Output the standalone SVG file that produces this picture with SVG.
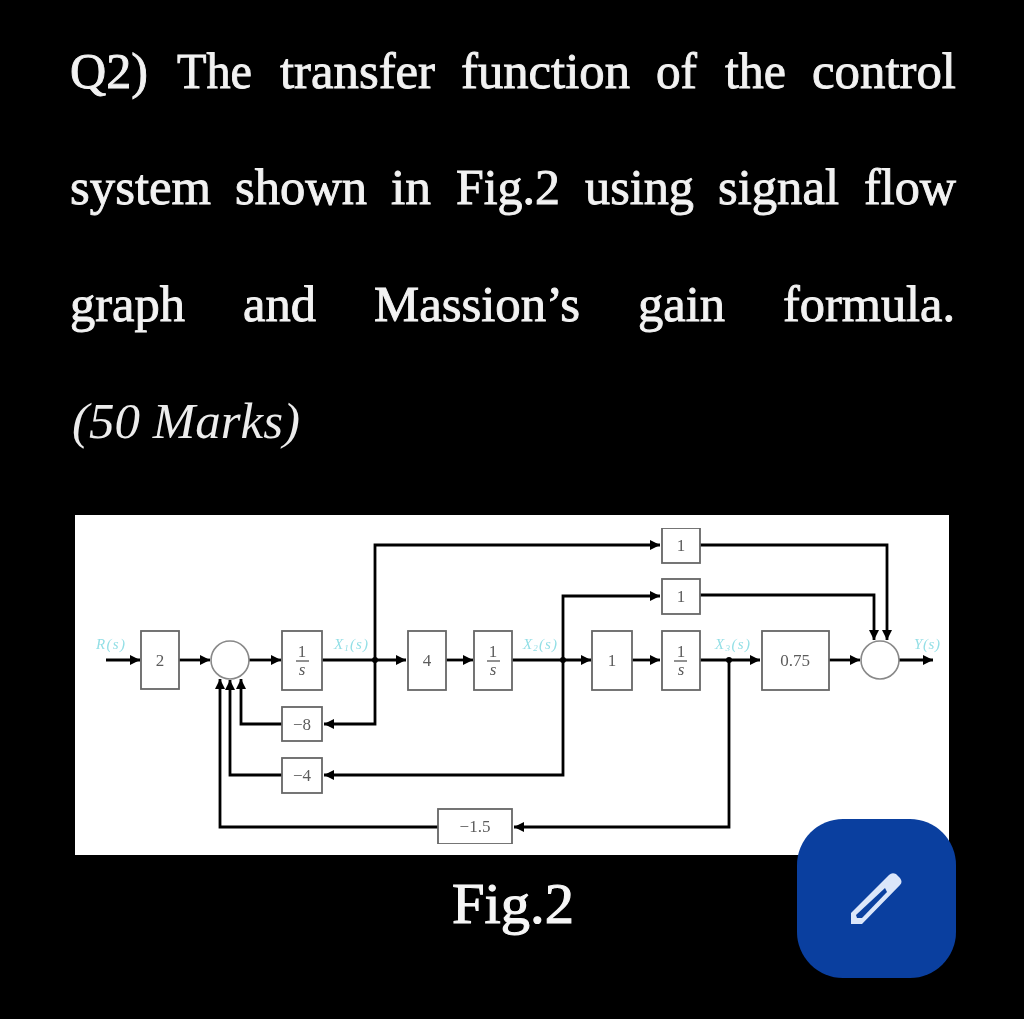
<svg xmlns="http://www.w3.org/2000/svg" width="1024" height="1019" viewBox="0 0 1024 1019">
<style>
.q{font-family:"Liberation Serif","Times New Roman",serif;font-size:51px;fill:#f2f2f2;stroke:#f2f2f2;stroke-width:0.9}
.m{font-family:"Liberation Serif","Times New Roman",serif;font-size:50px;font-style:italic;fill:#ececec}
.g{font-family:"Liberation Serif","Times New Roman",serif;font-size:56px;fill:#f6f6f6;stroke:#f6f6f6;stroke-width:1.1}
.b{fill:#fff;stroke:#666;stroke-width:1.8}
.c{fill:#fff;stroke:#888;stroke-width:1.6}
.t{font-family:"Liberation Serif","Times New Roman",serif;font-size:17px;fill:#5c5c5c;text-anchor:middle}
.e{font-style:italic}
.f{stroke:#555;stroke-width:1.3}
.l{font-family:"Liberation Serif","Times New Roman",serif;font-size:15px;font-style:italic;fill:#93dfe6}
.w{fill:none;stroke:#000;stroke-width:2.8}
</style>
<defs>
<marker id="a" markerUnits="userSpaceOnUse" markerWidth="11" markerHeight="11" refX="10" refY="5.5" orient="auto"><path d="M0 .5L10 5.5L0 10.5Z" fill="#000"/></marker>
<filter id="s" x="0" y="0" width="1" height="1"><feGaussianBlur stdDeviation="0.5"/></filter>
</defs>
<rect width="1024" height="1019" fill="#000"/>
<g id="question">
<text class="q" x="70" y="88" textLength="78" lengthAdjust="spacingAndGlyphs">Q2)</text>
<text class="q" x="177" y="88" textLength="75" lengthAdjust="spacingAndGlyphs">The</text>
<text class="q" x="280" y="88" textLength="155" lengthAdjust="spacingAndGlyphs">transfer</text>
<text class="q" x="461" y="88" textLength="169" lengthAdjust="spacingAndGlyphs">function</text>
<text class="q" x="656" y="88" textLength="41" lengthAdjust="spacingAndGlyphs">of</text>
<text class="q" x="725" y="88" textLength="61" lengthAdjust="spacingAndGlyphs">the</text>
<text class="q" x="812" y="88" textLength="144" lengthAdjust="spacingAndGlyphs">control</text>
<text class="q" x="70" y="204" textLength="141" lengthAdjust="spacingAndGlyphs">system</text>
<text class="q" x="235" y="204" textLength="132" lengthAdjust="spacingAndGlyphs">shown</text>
<text class="q" x="391" y="204" textLength="40" lengthAdjust="spacingAndGlyphs">in</text>
<text class="q" x="456" y="204" textLength="104" lengthAdjust="spacingAndGlyphs">Fig.2</text>
<text class="q" x="585" y="204" textLength="109" lengthAdjust="spacingAndGlyphs">using</text>
<text class="q" x="718" y="204" textLength="121" lengthAdjust="spacingAndGlyphs">signal</text>
<text class="q" x="864" y="204" textLength="92" lengthAdjust="spacingAndGlyphs">flow</text>
<text class="q" x="70" y="321" textLength="115" lengthAdjust="spacingAndGlyphs">graph</text>
<text class="q" x="243" y="321" textLength="73" lengthAdjust="spacingAndGlyphs">and</text>
<text class="q" x="374" y="321" textLength="206" lengthAdjust="spacingAndGlyphs">Massion’s</text>
<text class="q" x="638" y="321" textLength="87" lengthAdjust="spacingAndGlyphs">gain</text>
<text class="q" x="783" y="321" textLength="172" lengthAdjust="spacingAndGlyphs">formula.</text>
<text class="m" x="72" y="438" textLength="228" lengthAdjust="spacingAndGlyphs">(50 Marks)</text>
<text class="g" x="452" y="923" textLength="122" lengthAdjust="spacingAndGlyphs">Fig.2</text>
</g>
<rect x="75" y="515" width="874" height="340" fill="#fff"/>
<g filter="url(#s)">
<g id="connectors" class="w">
<path d="M106 660H140" marker-end="url(#a)"/>
<path d="M179 660H210" marker-end="url(#a)"/>
<path d="M249 660H281" marker-end="url(#a)"/>
<path d="M322 660H406" marker-end="url(#a)"/>
<path d="M446 660H473" marker-end="url(#a)"/>
<path d="M512 660H591" marker-end="url(#a)"/>
<path d="M632 660H660" marker-end="url(#a)"/>
<path d="M700 660H760" marker-end="url(#a)"/>
<path d="M829 660H860" marker-end="url(#a)"/>
<path d="M899 660H933" marker-end="url(#a)"/>
<path d="M375 660V545H660" marker-end="url(#a)"/>
<path d="M375 660V724H324" marker-end="url(#a)"/>
<path d="M282 724H241V679" marker-end="url(#a)"/>
<path d="M563 660V775H324" marker-end="url(#a)"/>
<path d="M282 775H230V680" marker-end="url(#a)"/>
<path d="M729 660V827H514" marker-end="url(#a)"/>
<path d="M438 827H220V679" marker-end="url(#a)"/>
<path d="M563 660V596H660" marker-end="url(#a)"/>
<path d="M700 545H887V640" marker-end="url(#a)"/>
<path d="M700 595H874V640" marker-end="url(#a)"/>
<g fill="#000" stroke="none"><circle cx="375" cy="660" r="3"/><circle cx="563" cy="660" r="3"/><circle cx="729" cy="660" r="3"/></g>
</g>
<g id="gain-2"><rect class="b" x="141" y="631" width="38" height="58"/><text class="t" x="160" y="666">2</text></g>
<g id="sum-1"><circle class="c" cx="230" cy="660" r="19"/></g>
<g id="int-1"><rect class="b" x="282" y="631" width="40" height="59"/><text class="t" x="302" y="657">1</text><path class="f" d="M296 661H309"/><text class="t e" x="302" y="675">s</text></g>
<g id="gain-m8"><rect class="b" x="282" y="707" width="40" height="34"/><text class="t" x="302" y="730">−8</text></g>
<g id="gain-m4"><rect class="b" x="282" y="758" width="40" height="35"/><text class="t" x="302" y="781">−4</text></g>
<g id="gain-m15"><rect class="b" x="438" y="809" width="74" height="35"/><text class="t" x="475" y="832">−1.5</text></g>
<g id="gain-4"><rect class="b" x="408" y="631" width="38" height="59"/><text class="t" x="427" y="666">4</text></g>
<g id="int-2"><rect class="b" x="474" y="631" width="38" height="59"/><text class="t" x="493" y="657">1</text><path class="f" d="M487 661H500"/><text class="t e" x="493" y="675">s</text></g>
<g id="gain-1-top"><rect class="b" x="662" y="528" width="38" height="35"/><text class="t" x="681" y="551">1</text></g>
<g id="gain-1-mid"><rect class="b" x="662" y="579" width="38" height="35"/><text class="t" x="681" y="602">1</text></g>
<g id="gain-1"><rect class="b" x="592" y="631" width="40" height="59"/><text class="t" x="612" y="666">1</text></g>
<g id="int-3"><rect class="b" x="662" y="631" width="38" height="59"/><text class="t" x="681" y="657">1</text><path class="f" d="M674 661H687"/><text class="t e" x="681" y="675">s</text></g>
<g id="gain-075"><rect class="b" x="762" y="631" width="67" height="59"/><text class="t" x="795" y="666">0.75</text></g>
<g id="sum-2"><circle class="c" cx="880" cy="660" r="19"/></g>
<g id="labels">
<text class="l" x="96" y="649" textLength="29">R(s)</text>
<text class="l" x="334" y="649" textLength="34">X<tspan font-size="9" dy="2">1</tspan><tspan dy="-2">(s)</tspan></text>
<text class="l" x="523" y="649" textLength="34">X<tspan font-size="9" dy="2">2</tspan><tspan dy="-2">(s)</tspan></text>
<text class="l" x="715" y="649" textLength="35">X<tspan font-size="9" dy="2">3</tspan><tspan dy="-2">(s)</tspan></text>
<text class="l" x="914" y="649" textLength="26">Y(s)</text>
</g>
</g>
<g id="edit-button">
<rect x="797" y="819" width="159" height="159" rx="46" fill="#0a3f9f"/>
<path d="M851 924V913L889 875Q892 872 896 874L900 878Q903 882 900 885L862 924Z" fill="#dbe6fa"/>
<path d="M856 915L885 888L887 892L862 918L857 918Z" fill="#0a3f9f"/>
</g>
</svg>
